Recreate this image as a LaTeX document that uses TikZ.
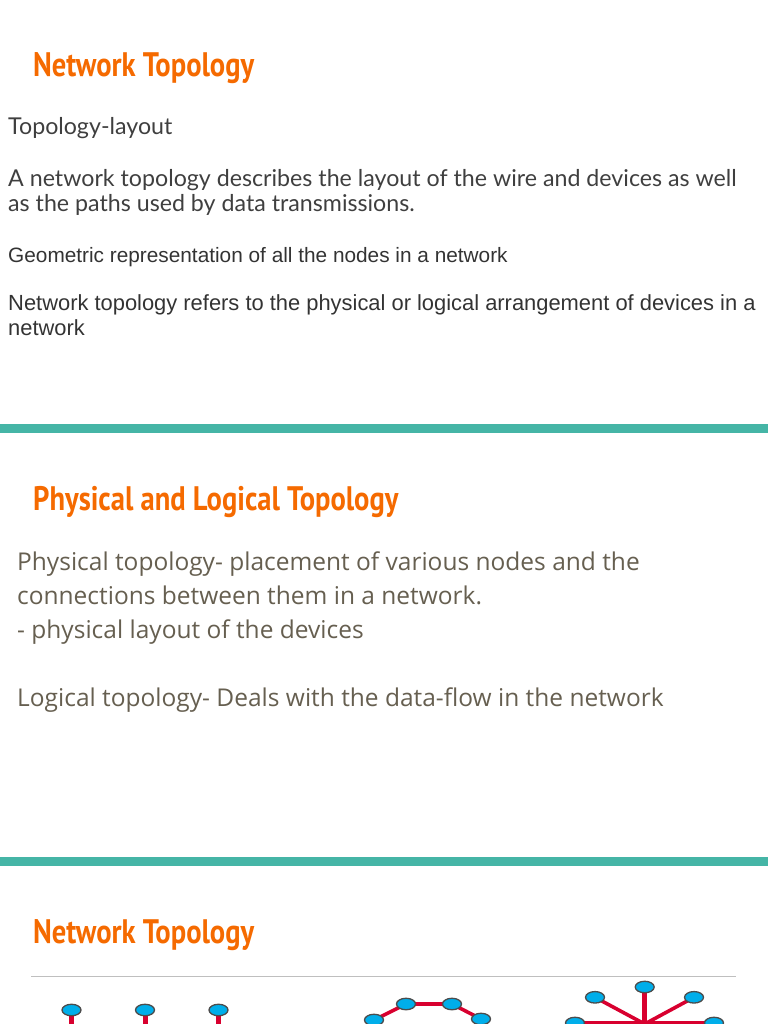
\documentclass[tikz,border=0pt]{standalone}
\usepackage{fontspec}
\setmainfont{Lato}
\newfontfamily\titlefont[FakeStretch=0.84]{PT Sans Bold}
\newfontfamily\bodyfont{Open Sans}
\newfontfamily\arialfont{Liberation Sans}
\usetikzlibrary{positioning,shapes.geometric}
\pgfdeclarelayer{background}
\pgfsetlayers{background,main}
\definecolor{titleorange}{HTML}{F56A00}
\definecolor{bandteal}{HTML}{45B5A6}
\definecolor{slidegray}{HTML}{3F3F3F}
\definecolor{olivegray}{HTML}{665F50}
\definecolor{hostblue}{HTML}{00AEEA}
\definecolor{wirered}{HTML}{D8002F}
\tikzset{
slidetitle/.style={anchor=base west,inner sep=0pt,text=titleorange,font=\titlefont\fontsize{34}{34}\selectfont},
graytext/.style={anchor=base west,inner sep=0pt,text=slidegray,font=\fontsize{23.2}{23.2}\selectfont},
arialtext/.style={anchor=base west,inner sep=0pt,text=black!80,font=\arialfont\fontsize{21.9}{21.9}\selectfont},
geomtext/.style={arialtext,font=\arialfont\fontsize{20.8}{20.8}\selectfont},
olivetext/.style={anchor=base west,inner sep=0pt,text=olivegray,font=\bodyfont\fontsize{24.5}{24.5}\selectfont},
host/.style={ellipse,draw=black!70,fill=hostblue,line width=1.3pt,minimum width=19pt,minimum height=11.5pt,inner sep=0pt},
wire/.style={draw=wirered,line width=3.6pt},
stub/.style={wire,line width=5pt},
band/.style={fill=bandteal,draw=none}
}
\begin{document}
\begin{tikzpicture}[x=1pt,y=-1pt]
\useasboundingbox (0,0) rectangle (768,1024);
% first slide
\node[slidetitle] (titleA) at (33,77) {Network Topology};
\node[graytext] (layoutA) at (8,135) {Topology-layout};
\node[graytext] (descA) at (8,187) {A network topology describes the layout of the wire and devices as well};
\node[graytext] (descB) at (8,212) {as the paths used by data transmissions.};
\node[geomtext] (geomA) at (8,262) {Geometric representation of all the nodes in a network};
\node[arialtext] (refA) at (8,310) {Network topology refers to the physical or logical arrangement of devices in a};
\node[arialtext] (refB) at (8,335) {network};
\fill[band] (0,424) rectangle (768,433);
% second slide
\node[slidetitle] (titleB) at (33,510) {Physical and Logical Topology};
\node[olivetext] (physA) at (17,570) {Physical topology- placement of various nodes and the};
\node[olivetext] (physB) at (17,604) {connections between them in a network.};
\node[olivetext] (physC) at (17,638) {- physical layout of the devices};
\node[olivetext] (logA) at (17,706) {Logical topology- Deals with the data-flow in the network};
\fill[band] (0,857) rectangle (768,866);
% third slide
\node[slidetitle] (titleC) at (33,943) {Network Topology};
\draw[black!25,line width=1pt] (31,976) -- (736,976);
% bus
\coordinate (busA) at (71.5,1030);
\coordinate (busB) at (145,1030);
\coordinate (busC) at (218.5,1030);
\node[host] (hostA) at (71.5,1010) {};
\node[host] (hostB) at (145,1010) {};
\node[host] (hostC) at (218.5,1010) {};
% ring
\node[host] (ringA) at (374,1020) {};
\node[host] (ringB) at (406,1004) {};
\node[host] (ringC) at (452,1004) {};
\node[host] (ringD) at (481,1019) {};
% star
\coordinate (hub) at (644.7,1024);
\node[host] (starA) at (575,1023) {};
\node[host] (starB) at (595,997.3) {};
\node[host] (starC) at (644.7,987) {};
\node[host] (starD) at (694,997.3) {};
\node[host] (starE) at (714,1023) {};
\begin{pgfonlayer}{background}
\draw[stub] (hostA.center) -- (busA);
\draw[stub] (hostB.center) -- (busB);
\draw[stub] (hostC.center) -- (busC);
\draw[wire] (ringA.center) -- (ringB.center);
\draw[wire] (ringB.center) -- (ringC.center);
\draw[wire] (ringC.center) -- (ringD.center);
\draw[wire] (starA.center) -- (starE.center);
\draw[wire] (starB.center) -- (hub);
\draw[stub] (starC.center) -- (hub);
\draw[wire] (starD.center) -- (hub);
\end{pgfonlayer}
\end{tikzpicture}
\end{document}
